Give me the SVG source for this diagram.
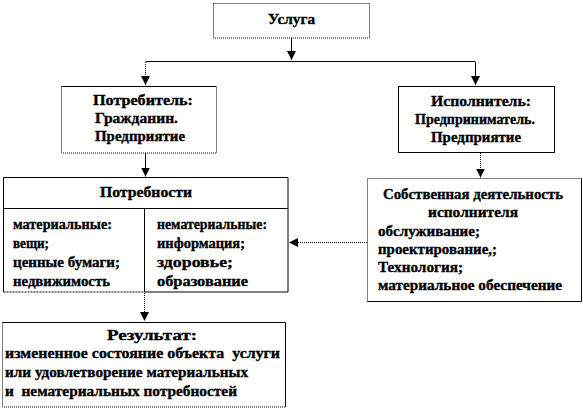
<svg xmlns="http://www.w3.org/2000/svg" width="583" height="419" viewBox="0 0 583 419">
<style>
.bg{fill:#fff;stroke:none}
.solid{fill:none;stroke:#000;stroke-width:1}
.dot{fill:none;stroke:#000;stroke-width:1;stroke-dasharray:1 1}
.dash{fill:none;stroke:#000;stroke-width:1;stroke-dasharray:2 1}
text{font-family:"Liberation Serif","Times New Roman",serif;font-weight:bold;font-size:15px;fill:#000;stroke:#000;stroke-width:0.35}
</style>
<defs>
<marker id="ah" markerUnits="userSpaceOnUse" markerWidth="10" markerHeight="10" viewBox="0 0 10 10" refX="9" refY="5" orient="auto">
<path d="M0,0.5 L9,5 L0,9.5 z" fill="#000"/>
</marker>
</defs>
<rect x="0" y="0" width="583" height="419" fill="#fff"/>

<g id="connectors">
<path class="solid" d="M291.5,38 V60" marker-end="url(#ah)"/>
<path class="solid" d="M145.5,61.5 H475.5"/>
<path class="dot" d="M145.5,62 V85" marker-end="url(#ah)"/>
<path class="solid" d="M475.5,62 V85" marker-end="url(#ah)"/>
<path class="solid" d="M145.5,153 V176.5" marker-end="url(#ah)"/>
<path class="dot" d="M480.5,153 V177.5" marker-end="url(#ah)"/>
<path class="dot" d="M367,242.5 H289" marker-end="url(#ah)"/>
<path class="dot" d="M144.5,293 V321" marker-end="url(#ah)"/>
</g>

<g id="usluga">
<rect class="bg" x="213.5" y="3.5" width="156" height="34.5"/>
<rect class="dot" x="213.5" y="3.5" width="156" height="34.5"/>
<text x="268" y="24" textLength="47" lengthAdjust="spacingAndGlyphs">Услуга</text>
</g>

<g id="potrebitel">
<rect class="bg" x="61.5" y="86.5" width="155" height="66.5"/>
<path class="dot" d="M61.5,86.5 V153 H216.5 V86.5"/>
<path class="solid" d="M61.5,86.5 H216.5"/>
<text x="93" y="105" textLength="100" lengthAdjust="spacingAndGlyphs">Потребитель:</text>
<text x="95" y="123" textLength="83" lengthAdjust="spacingAndGlyphs">Гражданин.</text>
<text x="95" y="141" textLength="90" lengthAdjust="spacingAndGlyphs">Предприятие</text>
</g>

<g id="ispolnitel">
<rect class="bg" x="398.5" y="86.5" width="156" height="66"/>
<rect class="solid" x="398.5" y="86.5" width="156" height="66"/>
<text x="431" y="106" textLength="100" lengthAdjust="spacingAndGlyphs">Исполнитель:</text>
<text x="415" y="124" textLength="120" lengthAdjust="spacingAndGlyphs">Предприниматель.</text>
<text x="431" y="142" textLength="90" lengthAdjust="spacingAndGlyphs">Предприятие</text>
</g>

<g id="deyatelnost">
<rect class="bg" x="367.5" y="178.5" width="214" height="123"/>
<path class="dot" d="M367.5,301.5 V178.5 H581.5"/>
<path class="solid" d="M581.5,178.5 V301.5 H367.5"/>
<text x="383" y="199" textLength="180" lengthAdjust="spacingAndGlyphs">Собственная деятельность</text>
<text x="428" y="217" textLength="90" lengthAdjust="spacingAndGlyphs">исполнителя</text>
<text x="378" y="236" textLength="102" lengthAdjust="spacingAndGlyphs">обслуживание;</text>
<text x="378" y="254" textLength="119" lengthAdjust="spacingAndGlyphs">проектирование,;</text>
<text x="378" y="272" textLength="85" lengthAdjust="spacingAndGlyphs">Технология;</text>
<text x="378" y="290" textLength="184" lengthAdjust="spacingAndGlyphs">материальное обеспечение</text>
</g>

<g id="potrebnosti">
<rect class="bg" x="3.5" y="177.5" width="284.5" height="114.5"/>
<path class="solid" d="M3.5,292 V177.5 H288 V292 H144.5 V208.5 M3.5,208.5 H288"/>
<path class="dash" d="M3.5,292 H144.5"/>
<text x="100" y="197" textLength="92" lengthAdjust="spacingAndGlyphs">Потребности</text>
<text x="13" y="229" textLength="99" lengthAdjust="spacingAndGlyphs">материальные:</text>
<text x="13" y="248" textLength="36" lengthAdjust="spacingAndGlyphs">вещи;</text>
<text x="13" y="267" textLength="107" lengthAdjust="spacingAndGlyphs">ценные бумаги;</text>
<text x="13" y="286" textLength="97" lengthAdjust="spacingAndGlyphs">недвижимость</text>
<text x="157" y="229" textLength="110" lengthAdjust="spacingAndGlyphs">нематериальные:</text>
<text x="157" y="248" textLength="88" lengthAdjust="spacingAndGlyphs">информация;</text>
<text x="157" y="267" textLength="76" lengthAdjust="spacingAndGlyphs">здоровье;</text>
<text x="157" y="286" textLength="91" lengthAdjust="spacingAndGlyphs">образование</text>
</g>

<g id="rezultat">
<rect class="bg" x="2.5" y="322.5" width="283" height="84.5"/>
<path class="dot" d="M2.5,322.5 V407 H285.5"/>
<path class="solid" d="M2.5,322.5 H285.5 V407"/>
<text x="107" y="340" textLength="90" lengthAdjust="spacingAndGlyphs">Результат:</text>
<text x="5" y="358" textLength="275" lengthAdjust="spacingAndGlyphs" xml:space="preserve">измененное состояние объекта  услуги</text>
<text x="5" y="377" textLength="243" lengthAdjust="spacingAndGlyphs">или удовлетворение материальных</text>
<text x="5" y="396" textLength="232" lengthAdjust="spacingAndGlyphs" xml:space="preserve">и  нематериальных потребностей</text>
</g>
</svg>
